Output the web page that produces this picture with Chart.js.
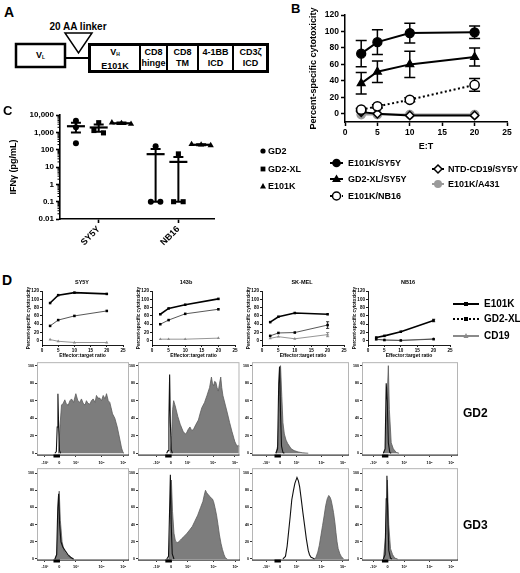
<!DOCTYPE html>
<html><head><meta charset="utf-8">
<script src="https://cdn.jsdelivr.net/npm/chart.js@4.4.0/dist/chart.umd.min.js"></script>
<style>
body{margin:0;background:#fff;width:520px;height:573px;overflow:hidden;position:relative;font-family:"Liberation Sans",Arial,Helvetica,sans-serif;}
.t{position:absolute;font-weight:bold;white-space:nowrap;line-height:1;color:#000;}
.seg{position:absolute;font-weight:bold;text-align:center;font-size:9px;line-height:10.5px;}
sub{font-size:55%;vertical-align:-1px;}
</style></head><body>
<script>
// ---------------- DATA ----------------
// Panel B
const etRatios = [2.5, 5, 10, 20];
const bSeriesNames = ['E101K/SY5Y', 'GD2-XL/SY5Y', 'E101K/NB16', 'NTD-CD19/SY5Y', 'E101K/A431'];
const bE101K_SY5Y = [73, 87, 98, 99];
const bE101K_SY5Y_err = [16, 15, 12, 7.5];
const bGD2XL_SY5Y = [37, 51, 60, 69];
const bGD2XL_SY5Y_err = [13, 13, 16, 11];
const bE101K_NB16 = [5, 9, 17, 35];
const bE101K_NB16_err = [1.5, 2, 2.5, 7.7];
const bNTD_CD19_SY5Y = [2, 0, -2, -2];
const bE101K_A431 = [-1, -1, -1, -1];
const bXTicks = [0, 5, 10, 15, 20, 25];
const bYTicks = [0, 20, 40, 60, 80, 100, 120];

// Panel C
const cGroups = ['SY5Y', 'NB16'];
const cSeriesNames = ['GD2', 'GD2-XL', 'E101K'];
const cSY5Y_GD2 = [4800, 2000, 240];
const cSY5Y_GD2XL = [3700, 1300, 950];
const cSY5Y_E101K = [3700, 3400, 3100];
const cNB16_GD2 = [160, 0.1, 0.1];
const cNB16_GD2XL = [58, 0.1, 0.1];
const cNB16_E101K = [210, 195, 180];
const cSY5Y_mean = [2300, 1950, 3400];
const cSY5Y_lo = [1000, 1100, 3050];
const cSY5Y_hi = [3700, 2900, 3750];
const cNB16_mean = [56, 20, 195];
const cNB16_lo = [0.1, 0.1, 182];
const cNB16_hi = [112, 38, 210];
const cYTickValues = [0.01, 0.1, 1, 10, 100, 1000, 10000];
const cYTickLabels = ['0.01', '0.1', '1', '10', '100', '1,000', '10,000'];

// Panel D
const dTargets = ['SY5Y', '143b', 'SK-MEL', 'NB16'];
const dSeriesNames = ['E101K', 'GD2-XL', 'CD19'];
const dSY5Y_E101K = [91, 110, 116, 113];
const dSY5Y_GD2XL = [36, 50, 60, 72];
const dSY5Y_CD19 = [3, -1, -4, -4];
const d143b_E101K = [64, 78, 87, 101];
const d143b_GD2XL = [40, 50, 65, 76];
const d143b_CD19 = [4, 4, 4, 6.5];
const dSKMEL_E101K = [45, 58, 67, 64];
const dSKMEL_GD2XL = [12, 19, 20, 38];
const dSKMEL_GD2XL_err = [null, null, null, 8];
const dSKMEL_CD19 = [6, 10, 5, 15];
const dSKMEL_CD19_err = [null, null, null, 5];
const dNB16_E101K = [8, 12, 22, 49];
const dNB16_E101K_err = [null, null, null, 3];
const dNB16_GD2XL = [4, 2, 1, 4];
const dNB16_CD19 = [3, 2, 1, 5];

// Histograms (x in display units of the biexponential axis, y = % of max)
const hXTickPos = [-1, 0, 1.16, 2.95, 4.47];
const hXTickLabels = ['-10³', '0', '10³', '10⁴', '10⁵'];
const hYTicks = [0, 20, 40, 60, 80, 100];
const hRowNames = ['GD2', 'GD3'];
const hGD2_SY5Y_ctrl = [[-0.3,0],[-0.2,2],[-0.14,30],[-0.09,68],[-0.04,30],[0.02,3],[0.1,0]];
const hGD2_SY5Y_samp = [[-0.05,0],[0.05,30],[0.16,55],[0.28,57],[0.39,61],[0.5,56],[0.63,55],[0.75,60],[0.86,62],[1.0,58],[1.16,68],[1.3,60],[1.44,58],[1.55,62],[1.67,57],[1.8,55],[1.9,60],[2.0,57],[2.14,56],[2.25,60],[2.37,62],[2.5,58],[2.6,66],[2.7,63],[2.83,63],[2.95,60],[3.07,66],[3.2,62],[3.3,68],[3.42,60],[3.53,58],[3.62,52],[3.72,45],[3.88,40],[4.05,30],[4.24,15],[4.35,6],[4.45,1],[4.52,0]];
const hGD2_143b_ctrl = [[-0.3,0],[-0.2,3],[-0.14,40],[-0.09,90],[-0.04,35],[0.02,4],[0.1,0]];
const hGD2_143b_samp = [[-0.05,0],[0.05,20],[0.12,50],[0.19,60],[0.3,54],[0.48,42],[0.65,33],[0.85,25],[1.0,22],[1.09,23],[1.2,27],[1.33,30],[1.45,26],[1.57,27],[1.75,33],[1.92,38],[2.05,46],[2.16,52],[2.35,58],[2.52,66],[2.7,75],[2.83,87],[2.9,80],[2.99,77],[3.05,82],[3.14,81],[3.22,75],[3.31,71],[3.4,80],[3.48,87],[3.55,75],[3.63,66],[3.8,55],[3.94,46],[4.1,35],[4.26,25],[4.4,17],[4.47,13],[4.62,8],[4.7,9],[4.79,8]];
const hGD2_SKMEL_ctrl = [[-0.3,0],[-0.18,5],[-0.1,80],[-0.04,99],[0.03,45],[0.1,8],[0.2,1],[0.3,0]];
const hGD2_SKMEL_samp = [[-0.3,0],[-0.15,10],[-0.05,65],[0.03,100],[0.12,65],[0.2,35],[0.3,22],[0.42,15],[0.54,11],[0.79,5],[1.0,3],[1.28,1.5],[1.6,0.5],[2.0,0]];
const hGD2_NB16_ctrl = [[-0.3,0],[-0.18,5],[-0.1,80],[-0.03,60],[0.05,12],[0.15,1],[0.25,0]];
const hGD2_NB16_samp = [[-0.3,0],[-0.15,5],[-0.04,60],[0.05,100],[0.12,50],[0.25,12],[0.4,5],[0.6,1],[0.8,0]];
const hGD3_SY5Y_ctrl = [[-0.3,0],[-0.18,5],[-0.1,60],[-0.04,76],[0.03,40],[0.12,20],[0.25,14],[0.4,10],[0.6,5],[0.8,2],[1.0,0]];
const hGD3_SY5Y_samp = [[-0.3,0],[-0.15,6],[-0.06,55],[0.0,79],[0.08,45],[0.2,20],[0.35,9],[0.55,4],[0.8,1],[1.0,0]];
const hGD3_143b_ctrl = [[-0.3,0],[-0.18,3],[-0.1,60],[-0.05,98],[0.01,40],[0.08,6],[0.2,0]];
const hGD3_143b_samp = [[-0.15,0],[-0.05,40],[0.02,92],[0.1,55],[0.2,30],[0.3,21],[0.42,19],[0.53,20],[0.65,22],[0.76,24],[0.95,27],[1.11,30],[1.3,34],[1.48,38],[1.65,44],[1.85,51],[2.05,60],[2.21,67],[2.3,74],[2.39,80],[2.48,77],[2.58,75],[2.68,73],[2.78,71],[2.87,70],[2.95,67],[3.05,60],[3.16,51],[3.26,40],[3.36,28],[3.47,18],[3.57,11],[3.68,5],[3.78,1],[3.9,0]];
const hGD3_SKMEL_ctrl = [[0.2,0],[0.38,3],[0.5,15],[0.6,31],[0.72,50],[0.83,69],[0.95,80],[1.05,88],[1.2,95],[1.3,91],[1.39,84],[1.5,70],[1.62,54],[1.75,38],[1.86,24],[2.0,10],[2.09,5],[2.2,2],[2.32,1],[2.45,0]];
const hGD3_SKMEL_samp = [[2.45,0],[2.55,2],[2.68,8],[2.79,16],[2.9,27],[3.02,39],[3.13,50],[3.24,62],[3.35,70],[3.46,74],[3.55,72],[3.62,69],[3.7,63],[3.8,54],[3.9,42],[3.97,31],[4.05,20],[4.13,12],[4.25,6],[4.35,3],[4.51,0]];
const hGD3_NB16_ctrl = [[-0.3,0],[-0.18,5],[-0.1,70],[-0.05,97],[0.01,50],[0.08,10],[0.2,1],[0.3,0]];
const hGD3_NB16_samp = [[-0.3,0],[-0.12,30],[-0.02,92],[0.08,40],[0.2,12],[0.35,5],[0.5,1],[0.7,0]];

// ---------------- SETUP ----------------
Chart.defaults.font.family = "'Liberation Sans', Arial, Helvetica, sans-serif";
Chart.defaults.color = '#000';
Chart.defaults.animation = false;
Chart.defaults.responsive = false;
Chart.defaults.plugins.legend.display = false;
Chart.defaults.plugins.tooltip.enabled = false;
const BODY = document.body;

function mkCanvas(L, T, R, B, pl, pt, pr, pb) {
  const c = document.createElement('canvas');
  const w = Math.round(R - L + pl + pr), h = Math.round(B - T + pt + pb);
  c.width = w; c.height = h;
  c.style.cssText = `position:absolute;left:${L - pl}px;top:${T - pt}px;width:${w}px;height:${h}px`;
  BODY.appendChild(c);
  return c;
}
function txt(x, yc, size, html, align, extra) {
  const d = document.createElement('div');
  d.className = 't';
  d.style.cssText = `left:${x}px;top:${yc - size / 2}px;font-size:${size}px;${extra || ''}`;
  if (align === 'center') d.style.transform = 'translateX(-50%)';
  d.innerHTML = html;
  BODY.appendChild(d);
  return d;
}
function axis(o) {
  return {
    type: o.type || 'linear', min: o.min, max: o.max,
    afterFit: s => { if (s.isHorizontal()) s.height = o.size; else s.width = o.size; },
    afterBuildTicks: o.ticksAt ? (s => { s.ticks = o.ticksAt.map(v => ({ value: v })); }) : undefined,
    ticks: { font: { size: o.font, weight: 'bold' }, padding: o.pad, color: '#000', autoSkip: false,
      maxRotation: o.rot || 0, minRotation: o.rot || 0, callback: o.cb || ((v, i) => o.labels ? o.labels[i] : v) },
    grid: { drawOnChartArea: false, drawTicks: true, tickLength: o.tickLen, tickWidth: o.tickW || o.bw, tickColor: '#000', color: '#000' },
    border: { display: o.border !== false, color: o.borderColor || '#000', width: o.bw },
    title: { display: !!o.title, text: o.title, font: { size: o.titleFont, weight: 'bold' }, padding: { top: 0, bottom: 0 }, color: '#000' }
  };
}
const errorBars = {
  id: 'errorBars',
  beforeDatasetsDraw(chart) {
    const ctx = chart.ctx;
    chart.data.datasets.forEach((ds, i) => {
      if (!ds.err && !ds.errLo) return;
      const meta = chart.getDatasetMeta(i);
      const ys = chart.scales[meta.yAxisID];
      ctx.save();
      ctx.strokeStyle = ds.errColor || '#000';
      ctx.lineWidth = ds.errWidth || 1.5;
      ds.data.forEach((p, j) => {
        let lo, hi;
        if (ds.err) { if (ds.err[j] == null) return; lo = p.y - ds.err[j]; hi = p.y + ds.err[j]; }
        else { lo = ds.errLo[j]; hi = ds.errHi[j]; }
        const x = meta.data[j].x, yl = ys.getPixelForValue(lo), yh = ys.getPixelForValue(hi), c = ds.capHalf || 5;
        ctx.beginPath();
        ctx.moveTo(x, yl); ctx.lineTo(x, yh);
        ctx.moveTo(x - c, yl); ctx.lineTo(x + c, yl);
        ctx.moveTo(x - c, yh); ctx.lineTo(x + c, yh);
        ctx.stroke();
      });
      ctx.restore();
    });
  }
};
const pts = (xs, ys) => xs.map((x, i) => ({ x: x, y: ys[i] }));

// ---------------- PANEL A (diagram) ----------------
txt(4, 12, 14, 'A');
txt(78, 27, 10, '20 AA linker', 'center');
BODY.insertAdjacentHTML('beforeend', `<svg style="position:absolute;left:0;top:0" width="280" height="80">
<polygon points="65,33 92,33 78.5,53" fill="#fff" stroke="#000" stroke-width="1.5"/>
<line x1="65" y1="58" x2="89" y2="58" stroke="#000" stroke-width="2"/>
<rect x="16" y="44" width="49" height="23" fill="none" stroke="#000" stroke-width="2.5"/>
<rect x="89.5" y="44.5" width="178" height="27" fill="none" stroke="#000" stroke-width="3"/>
<line x1="140" y1="44" x2="140" y2="71" stroke="#000" stroke-width="2"/>
<line x1="167" y1="44" x2="167" y2="71" stroke="#000" stroke-width="2"/>
<line x1="198" y1="44" x2="198" y2="71" stroke="#000" stroke-width="2"/>
<line x1="233" y1="44" x2="233" y2="71" stroke="#000" stroke-width="2"/>
</svg>`);
[[16, 65, ['V<sub>L</sub>'], 50],
 [90, 140, ['V<sub>H</sub>', 'E101K'], 47],
 [140, 167, ['CD8', 'hinge'], 47],
 [167, 198, ['CD8', 'TM'], 47],
 [198, 233, ['4-1BB', 'ICD'], 47],
 [233, 268, ['CD3ζ', 'ICD'], 47]].forEach(s => {
  const d = document.createElement('div');
  d.className = 'seg';
  d.style.left = s[0] + 'px'; d.style.width = (s[1] - s[0]) + 'px'; d.style.top = s[3] + 'px';
  d.innerHTML = s[2].join('<br>');
  BODY.appendChild(d);
});

// ---------------- PANEL B ----------------
txt(291, 8, 13, 'B');
{
  const cv = mkCanvas(345, 15, 507, 122, 37, 10, 8, 30);
  const base = { clip: false, tension: 0, borderColor: '#000', pointBorderColor: '#000', borderWidth: 2, pointBorderWidth: 1.3, pointRadius: 4.2, capHalf: 5.5, errWidth: 1.5 };
  new Chart(cv, {
    type: 'line',
    data: { datasets: [
      Object.assign({}, base, { label: bSeriesNames[0], data: pts(etRatios, bE101K_SY5Y), err: bE101K_SY5Y_err, pointStyle: 'circle', pointBackgroundColor: '#000', pointRadius: 4.5 }),
      Object.assign({}, base, { label: bSeriesNames[1], data: pts(etRatios, bGD2XL_SY5Y), err: bGD2XL_SY5Y_err, pointStyle: 'triangle', pointBackgroundColor: '#000', pointRadius: 4.5 }),
      Object.assign({}, base, { label: bSeriesNames[2], data: pts(etRatios, bE101K_NB16), err: bE101K_NB16_err, pointStyle: 'circle', pointBackgroundColor: '#fff', borderDash: [2, 2.5], pointRadius: 4.6, pointBorderWidth: 1.5 }),
      Object.assign({}, base, { label: bSeriesNames[3], data: pts(etRatios, bNTD_CD19_SY5Y), pointStyle: 'rectRot', pointBackgroundColor: '#fff', pointRadius: 4.2, pointBorderWidth: 1.5 }),
      Object.assign({}, base, { label: bSeriesNames[4], data: pts(etRatios, bE101K_A431), pointStyle: 'circle', borderColor: '#9a9a9a', pointBorderColor: '#9a9a9a', pointBackgroundColor: '#9a9a9a', pointRadius: 4.2 })
    ] },
    options: {
      layout: { padding: { left: 0, top: 10, right: 8, bottom: 0 } },
      scales: {
        x: axis({ min: 0, max: 25, ticksAt: bXTicks, size: 30, font: 8.5, pad: 2, tickLen: 4, bw: 1.5, title: 'E:T', titleFont: 9 }),
        y: axis({ min: -10, max: 120, ticksAt: bYTicks, size: 37, font: 8.5, pad: 2, tickLen: 4, bw: 1.5, title: 'Percent-specific cytotoxicity', titleFont: 9 })
      }
    },
    plugins: [errorBars]
  });
  // legend
  BODY.insertAdjacentHTML('beforeend', `<svg style="position:absolute;left:0;top:0" width="520" height="220">
  <line x1="330" y1="163" x2="343" y2="163" stroke="#000" stroke-width="2"/><circle cx="336.5" cy="163" r="4.3" fill="#000"/>
  <line x1="330" y1="179" x2="343" y2="179" stroke="#000" stroke-width="2"/><polygon points="336.5,174.5 341,182 332,182" fill="#000"/>
  <line x1="330" y1="196" x2="343" y2="196" stroke="#000" stroke-width="2" stroke-dasharray="2,2"/><circle cx="336.5" cy="196" r="4" fill="#fff" stroke="#000" stroke-width="1.5"/>
  <line x1="432" y1="169" x2="444" y2="169" stroke="#000" stroke-width="2"/><polygon points="438,165 442,169 438,173 434,169" fill="#fff" stroke="#000" stroke-width="1.5"/>
  <line x1="432" y1="184" x2="444" y2="184" stroke="#9a9a9a" stroke-width="2"/><circle cx="438" cy="184" r="4" fill="#9a9a9a"/>
  </svg>`);
  txt(348, 163, 9, bSeriesNames[0]);
  txt(348, 179, 9, bSeriesNames[1]);
  txt(348, 196, 9, bSeriesNames[2]);
  txt(448, 169, 9, bSeriesNames[3]);
  txt(448, 184, 9, bSeriesNames[4]);
}

// ---------------- PANEL C ----------------
txt(3, 110, 13, 'C');
{
  const GROUP_STEP = 3.5;
  const reps = [[cSY5Y_GD2, cSY5Y_GD2XL, cSY5Y_E101K], [cNB16_GD2, cNB16_GD2XL, cNB16_E101K]];
  const means = [cSY5Y_mean, cNB16_mean], los = [cSY5Y_lo, cNB16_lo], his = [cSY5Y_hi, cNB16_hi];
  function dodge(vals) {
    const off = vals.map(() => 0), used = vals.map(() => false);
    for (let i = 0; i < vals.length; i++) {
      if (used[i]) continue;
      const grp = [i]; used[i] = true;
      for (let j = i + 1; j < vals.length; j++)
        if (!used[j] && Math.abs(Math.log10(vals[j]) - Math.log10(vals[i])) < 0.15) { grp.push(j); used[j] = true; }
      grp.forEach((k, r) => off[k] = (r - (grp.length - 1) / 2) * 0.42);
    }
    return off;
  }
  const styles = ['circle', 'rect', 'triangle'];
  const radii = [3, 3.6, 3.6];
  const datasets = [];
  cSeriesNames.forEach((name, s) => {
    const data = [];
    cGroups.forEach((g, gi) => {
      const v = reps[gi][s], off = dodge(v);
      v.forEach((y, j) => data.push({ x: gi * GROUP_STEP + s + off[j], y: y }));
    });
    datasets.push({ type: 'scatter', label: name, data: data, pointStyle: styles[s], pointRadius: radii[s], pointBackgroundColor: '#000', pointBorderColor: '#000', pointBorderWidth: 0, clip: false });
  });
  cSeriesNames.forEach((name, s) => {
    datasets.push({ type: 'scatter', label: name + ' mean', data: cGroups.map((g, gi) => ({ x: gi * GROUP_STEP + s, y: means[gi][s] })),
      errLo: cGroups.map((g, gi) => los[gi][s]), errHi: cGroups.map((g, gi) => his[gi][s]),
      pointStyle: 'line', pointRadius: 9, pointBorderWidth: 2.2, pointBorderColor: '#000', borderColor: '#000', capHalf: 5, errWidth: 2, clip: false });
  });
  const minorLog = {
    id: 'minorLog',
    afterDraw(chart) {
      const ys = chart.scales.y, ctx = chart.ctx, x0 = chart.chartArea.left;
      ctx.save(); ctx.strokeStyle = '#000'; ctx.lineWidth = 1;
      for (let d = -2; d < 4; d++) for (let k = 2; k < 10; k++) {
        const y = ys.getPixelForValue(k * Math.pow(10, d));
        ctx.beginPath(); ctx.moveTo(x0, y); ctx.lineTo(x0 - 2.5, y); ctx.stroke();
      }
      ctx.restore();
    }
  };
  const cv = mkCanvas(60, 112, 222, 219, 52, 8, 4, 32);
  new Chart(cv, {
    type: 'scatter',
    data: { datasets: datasets },
    options: {
      layout: { padding: { left: 0, top: 8, right: 4, bottom: 0 } },
      scales: {
        x: axis({ min: -0.7, max: 6.1, ticksAt: cGroups.map((g, gi) => gi * GROUP_STEP + 1), labels: cGroups, size: 32, font: 9, pad: 1, tickLen: 4, bw: 1.6, rot: 45 }),
        y: axis({ type: 'logarithmic', min: 0.01, max: 10000, ticksAt: cYTickValues, labels: cYTickLabels, size: 52, font: 8, pad: 2, tickLen: 4, bw: 1.6, title: 'IFNγ (pg/mL)', titleFont: 9 })
      }
    },
    plugins: [errorBars, minorLog]
  });
  BODY.insertAdjacentHTML('beforeend', `<svg style="position:absolute;left:0;top:0" width="520" height="220">
  <circle cx="263" cy="151" r="2.6" fill="#000"/>
  <rect x="260.6" y="166.6" width="4.8" height="4.8" fill="#000"/>
  <polygon points="263,183 266,188.5 260,188.5" fill="#000"/>
  </svg>`);
  cSeriesNames.forEach((n, i) => txt(268, [151, 169, 186][i], 9, n));
}

// ---------------- PANEL D line charts ----------------
txt(2, 280, 14, 'D');
{
  const Ls = [42, 152, 262, 368], Rs = [123, 235, 344, 450], titleX = [82, 186, 302, 408];
  const e = [dSY5Y_E101K, d143b_E101K, dSKMEL_E101K, dNB16_E101K];
  const g = [dSY5Y_GD2XL, d143b_GD2XL, dSKMEL_GD2XL, dNB16_GD2XL];
  const c = [dSY5Y_CD19, d143b_CD19, dSKMEL_CD19, dNB16_CD19];
  const eErr = [null, null, null, dNB16_E101K_err], gErr = [null, null, dSKMEL_GD2XL_err, null], cErr = [null, null, dSKMEL_CD19_err, null];
  dTargets.forEach((t, k) => {
    const cv = mkCanvas(Ls[k], 291, Rs[k], 345, 16, 6, 5, 14);
    const base = { clip: false, tension: 0, pointRadius: 1.8, pointBorderWidth: 0, capHalf: 1.6, errWidth: 0.8 };
    new Chart(cv, {
      type: 'line',
      data: { datasets: [
        Object.assign({}, base, { label: dSeriesNames[0], data: pts(etRatios, e[k]), err: eErr[k], borderColor: '#000', borderWidth: 1.6, pointStyle: 'rect', pointBackgroundColor: '#000' }),
        Object.assign({}, base, { label: dSeriesNames[1], data: pts(etRatios, g[k]), err: gErr[k], borderColor: '#444', borderWidth: 0.9, pointStyle: 'rect', pointBackgroundColor: '#000' }),
        Object.assign({}, base, { label: dSeriesNames[2], data: pts(etRatios, c[k]), err: cErr[k], errColor: '#777', borderColor: '#8a8a8a', borderWidth: 0.9, pointStyle: 'triangle', pointBackgroundColor: '#8a8a8a' })
      ] },
      options: {
        layout: { padding: { left: 0, top: 6, right: 5, bottom: 0 } },
        scales: {
          x: axis({ min: 0, max: 25, ticksAt: bXTicks, size: 14, font: 4.6, pad: 1, tickLen: 2, bw: 0.9, title: 'Effector:target ratio', titleFont: 5 }),
          y: axis({ min: -10, max: 120, ticksAt: bYTicks, size: 16, font: 4.6, pad: 1, tickLen: 2, bw: 0.9, title: 'Percent-specific cytotoxicity', titleFont: 4.6 })
        }
      },
      plugins: [errorBars]
    });
    txt(titleX[k], 283, 5.5, t, 'center');
  });
  BODY.insertAdjacentHTML('beforeend', `<svg style="position:absolute;left:0;top:0" width="520" height="360">
  <line x1="453" y1="304" x2="479" y2="304" stroke="#000" stroke-width="2"/><rect x="464" y="302" width="4" height="4" fill="#000"/>
  <line x1="453" y1="319" x2="479" y2="319" stroke="#000" stroke-width="2" stroke-dasharray="2,2"/><rect x="464" y="317" width="4" height="4" fill="#000"/>
  <line x1="453" y1="336" x2="479" y2="336" stroke="#8a8a8a" stroke-width="2"/><polygon points="466,333 468.5,338 463.5,338" fill="#8a8a8a"/>
  </svg>`);
  dSeriesNames.forEach((n, i) => txt(484, [304, 319, 336][i], 10, n));
}

// ---------------- PANEL D histograms ----------------
{
  const Ls = [37, 138, 252, 362], Rs = [129, 240, 349, 458];
  const xMin = [-1.55, -2.3, -2.0, -1.8], xMax = [4.87, 4.79, 4.9, 4.94];
  const Ts = [362, 468], Bs = [455, 560], yMin = [-2, -1.2], yMax = [104, 105.8], xPad = [4, 3];
  const ctrl = [[hGD2_SY5Y_ctrl, hGD2_143b_ctrl, hGD2_SKMEL_ctrl, hGD2_NB16_ctrl], [hGD3_SY5Y_ctrl, hGD3_143b_ctrl, hGD3_SKMEL_ctrl, hGD3_NB16_ctrl]];
  const samp = [[hGD2_SY5Y_samp, hGD2_143b_samp, hGD2_SKMEL_samp, hGD2_NB16_samp], [hGD3_SY5Y_samp, hGD3_143b_samp, hGD3_SKMEL_samp, hGD3_NB16_samp]];
  const frame = {
    id: 'frame',
    afterDraw(chart) {
      const a = chart.chartArea, ctx = chart.ctx, xs = chart.scales.x;
      ctx.save();
      ctx.strokeStyle = '#b5b5b5'; ctx.lineWidth = 1;
      ctx.strokeRect(a.left + 0.5, a.top + 0.5, a.right - a.left - 1, a.bottom - a.top);
      ctx.strokeStyle = '#000'; ctx.lineWidth = 0.8;
      ctx.beginPath(); ctx.moveTo(a.left, a.bottom); ctx.lineTo(a.right, a.bottom); ctx.stroke();
      ctx.fillStyle = '#000';
      const x0 = xs.getPixelForValue(-0.4), x1 = xs.getPixelForValue(0.05);
      ctx.fillRect(x0, a.bottom - 0.5, x1 - x0, 3);
      ctx.restore();
    }
  };
  hRowNames.forEach((rn, r) => {
    Ls.forEach((L, k) => {
      const cv = mkCanvas(L, Ts[r], Rs[k], Bs[r], 12, 3, 2, 12);
      new Chart(cv, {
        type: 'line',
        data: { datasets: [
          { label: 'control', data: ctrl[r][k].map(p => ({ x: p[0], y: p[1] })), borderColor: '#111', borderWidth: 1.1, pointRadius: 0, fill: false, tension: 0 },
          { label: rn, data: samp[r][k].map(p => ({ x: p[0], y: p[1] })), borderColor: '#5c5c5c', backgroundColor: '#7d7d7d', borderWidth: 0.8, pointRadius: 0, fill: 'origin', tension: 0 }
        ] },
        options: {
          layout: { padding: { left: 0, top: 3, right: 2, bottom: 0 } },
          scales: {
            x: axis({ min: xMin[k], max: xMax[k], ticksAt: hXTickPos, labels: hXTickLabels, size: 12, font: 3.8, pad: xPad[r], tickLen: 2, tickW: 0.8, bw: 0.8, border: false }),
            y: axis({ min: yMin[r], max: yMax[r], ticksAt: hYTicks, size: 12, font: 3.6, pad: 1, tickLen: 2, tickW: 0.8, bw: 0.8, border: false })
          }
        },
        plugins: [frame]
      });
    });
    txt(463, [413, 525][r], 12, rn);
  });
}
</script>
</body></html>
